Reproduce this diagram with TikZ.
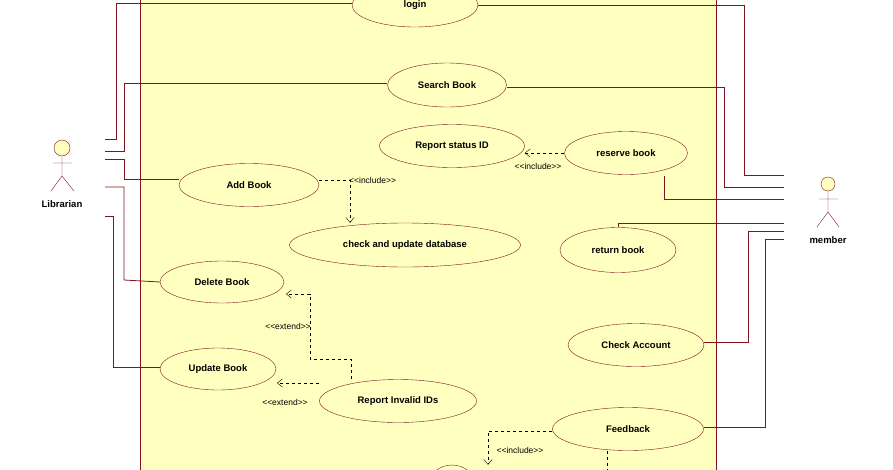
\documentclass[tikz,border=0pt]{standalone}
\usepackage{fontspec}
\setmainfont{Liberation Sans}
\usetikzlibrary{positioning, shapes.geometric, arrows.meta, calc}
\definecolor{uline}{RGB}{128,20,30}
\definecolor{ufill}{RGB}{255,255,192}

\begin{document}
\begin{tikzpicture}[
    x=1pt, y=-1pt,
    usecase/.style={ellipse, draw=uline, fill=ufill, inner sep=0pt, font=\bfseries\fontsize{9.5}{10}\selectfont},
    assoc/.style={draw=uline, line width=0.8pt},
    dep/.style={draw=black, dashed, -{Straight Barb[length=5pt, width=8pt]}},
    stereo/.style={font=\fontsize{8.5}{9}\selectfont, inner sep=1pt}
]
    \useasboundingbox (0,0) rectangle (893,469);
    \clip (0,0) rectangle (893,469);

    % System boundary
    \draw[uline, fill=ufill, line width=0.8pt] (140,-10) rectangle (716,480);

    % Use cases
    \node[usecase, minimum width=126, minimum height=44] (login) at (415,5) {login};
    \node[usecase, minimum width=119, minimum height=44] (search) at (447,85) {Search Book};
    \node[usecase, minimum width=145, minimum height=43] (status) at (452,146) {Report status ID};
    \node[usecase, minimum width=123, minimum height=43] (reserve) at (626,153) {reserve book};
    \node[usecase, minimum width=140, minimum height=43] (addbook) at (249,185) {Add Book};
    \node[usecase, minimum width=231, minimum height=44] (checkdb) at (405,245) {check and update database};
    \node[usecase, minimum width=116, minimum height=45] (returnbook) at (618,250) {return book};
    \node[usecase, minimum width=124, minimum height=42] (deletebook) at (222,282) {Delete Book};
    \node[usecase, minimum width=136, minimum height=43] (account) at (636,345) {Check Account};
    \node[usecase, minimum width=116, minimum height=42] (updatebook) at (218,369) {Update Book};
    \node[usecase, minimum width=157, minimum height=43] (invalid) at (398,401) {Report Invalid IDs};
    \node[usecase, minimum width=151, minimum height=43] (feedback) at (628,429) {Feedback};
    \node[usecase, minimum width=46, minimum height=40] (hidden) at (452,485) {};

    % Actors
    \draw[uline, fill=ufill] (62,148) circle (8);
    \draw[uline] (62,156) -- (62,176) (53,163) -- (72,163) (62,176) -- (51,191) (62,176) -- (74,191);
    \node[font=\bfseries\fontsize{9.5}{10}\selectfont] (librarian) at (62,204) {Librarian};
    \draw[uline, fill=ufill] (828,184) circle (7);
    \draw[uline] (828,191) -- (828,212) (819,199) -- (838,199) (828,212) -- (817,227) (828,212) -- (839,227);
    \node[font=\bfseries\fontsize{9.5}{10}\selectfont] (member) at (828,240) {member};

    % Librarian associations
    \coordinate (l1) at (105,139);
    \coordinate (l2) at (105,151);
    \coordinate (l3) at (105,159);
    \coordinate (l4) at (105,187);
    \coordinate (l5) at (105,216);
    \draw[assoc] (l1) -| (116,3) -- (login.west |- 0,3);
    \draw[assoc] (l2) -| (124,83) -- (search.west |- 0,83);
    \draw[assoc] (l3) -| (124,179) -- (addbook.west |- 0,179);
    \draw[assoc] (l4) -| (124,280) -- (deletebook.west);
    \draw[assoc] (l5) -| (113,367) -- (updatebook.west |- 0,367);

    % Member associations
    \coordinate (m1) at (784,175);
    \coordinate (m2) at (784,187);
    \coordinate (m3) at (784,199);
    \coordinate (m4) at (784,223);
    \coordinate (m5) at (784,231);
    \coordinate (m6) at (784,239);
    \draw[assoc] (m1) -| (744,5) -- (login.east);
    \draw[assoc] (m2) -| (724,87) -- (search.east |- 0,87);
    \draw[assoc] (m3) -| (664,176);
    \draw[assoc] (m4) -| (returnbook.north);
    \draw[assoc] (m5) -| (748,342) -- (account.east |- 0,342);
    \draw[assoc] (m6) -| (765,427) -- (feedback.east |- 0,427);

    % Dependencies
    \draw[dep] (addbook.east |- 0,180) -| (checkdb.north -| 350,0);
    \node[stereo, anchor=west] at (348,180) {{<}{<}include{>}{>}};
    \draw[dep] (reserve.west) -- (status.east |- reserve.west);
    \node[stereo] at (538,166) {{<}{<}include{>}{>}};
    \draw[dep] (invalid.north -| 351,0) -- (351,359) -| (310,294) -- (286,294);
    \node[stereo] at (288,326) {{<}{<}extend{>}{>}};
    \draw[dep] (invalid.west |- 0,383) -- (277,383);
    \node[stereo] at (285,402) {{<}{<}extend{>}{>}};
    \draw[dep] (feedback.west |- 0,431) -| (hidden.north -| 488,0);
    \node[stereo] at (520,450) {{<}{<}include{>}{>}};
    \draw[dashed] (feedback.south -| 607,0) -- (607,475);
\end{tikzpicture}
\end{document}
